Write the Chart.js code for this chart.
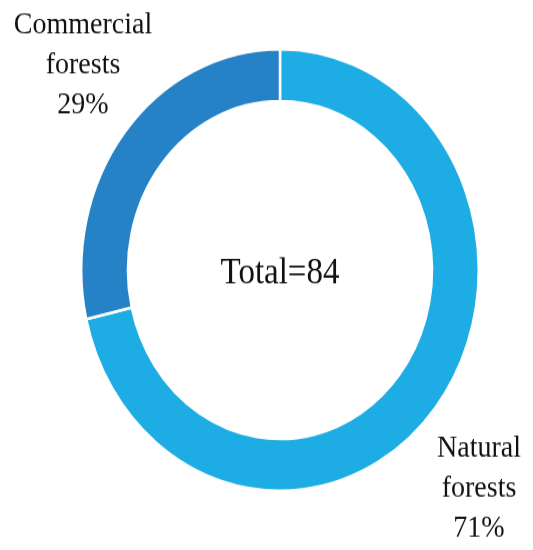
<!DOCTYPE html>
<html>
<head>
<meta charset="utf-8">
<script src="https://cdn.jsdelivr.net/npm/chart.js@4/dist/chart.umd.min.js"></script>
<style>
  html, body { margin: 0; padding: 0; background: #fff; overflow: hidden; }
  #c { display: block; width: 533px; height: 550px; }
</style>
</head>
<body>
<canvas id="c" width="533" height="495" style="width:533px;height:550px"></canvas>
<script>
const categories = ["Natural forests", "Commercial forests"];
const labelLines = [["Natural", "forests"], ["Commercial", "forests"]];
const values = [60, 24];
const colors = ["#1DACE3", "#2682C7"];

const total = values.reduce((a, b) => a + b, 0);

const labelPlugin = {
  id: "labels",
  afterDraw(chart) {
    const ctx = chart.ctx;
    const meta = chart.getDatasetMeta(0);
    const arc = meta.data[0];
    const cx = arc.x, cy = arc.y;
    ctx.save();
    ctx.fillStyle = "#111";
    ctx.textAlign = "center";
    ctx.textBaseline = "alphabetic";
    ctx.font = "33px 'Liberation Serif', serif";
    ctx.fillText("Total=" + total, cx, cy + 12);
    ctx.font = "28px 'Liberation Serif', serif";
    const pos = [
      { x: 479, y: 411 },
      { x: 83, y: 30 }
    ];
    values.forEach((v, i) => {
      const lines = labelLines[i].concat([Math.round(v / total * 100) + "%"]);
      lines.forEach((t, j) => ctx.fillText(t, pos[i].x, pos[i].y + j * 36));
    });
    ctx.restore();
  }
};

new Chart(document.getElementById("c"), {
  type: "doughnut",
  data: {
    labels: categories,
    datasets: [{
      data: values,
      backgroundColor: colors,
      borderColor: "#ffffff",
      borderWidth: 2.5,
      hoverOffset: 0
    }]
  },
  options: {
    responsive: false,
    devicePixelRatio: 1,
    animation: false,
    cutout: "76.5%",
    layout: { padding: { left: 80, right: 53, top: 43, bottom: 52 } },
    plugins: { legend: { display: false }, tooltip: { enabled: false } }
  },
  plugins: [labelPlugin]
});
</script>
</body>
</html>
